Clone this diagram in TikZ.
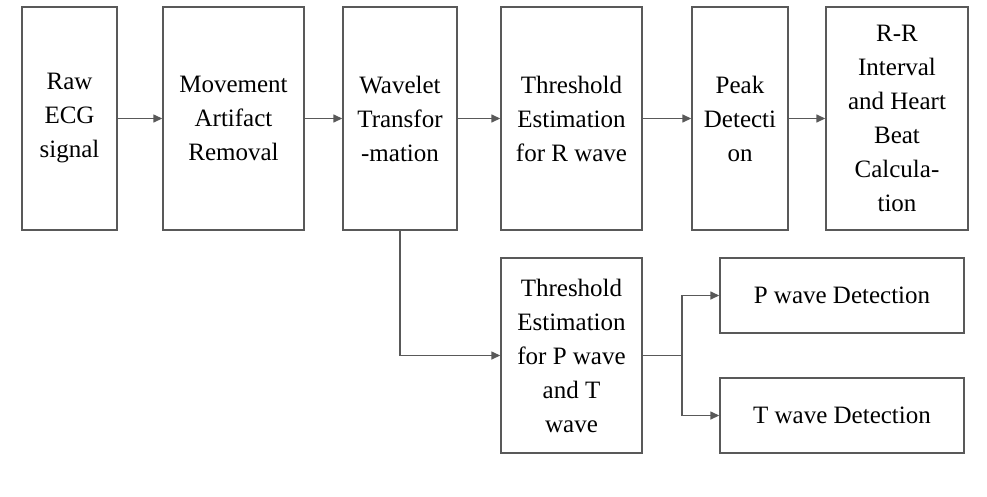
\documentclass[tikz,border=0pt]{standalone}
\usepackage{fontspec}
\setmainfont{Liberation Serif}
\usetikzlibrary{arrows.meta}
\begin{document}
\begin{tikzpicture}[x=1pt,y=-1pt,
  blk/.style={draw=black!65,line width=1.4pt,inner sep=0pt,align=center,
    font=\fontsize{25}{34}\selectfont},
  arr/.style={draw=black!65,line width=1.4pt,-{Triangle[length=9pt,width=8pt]}}]
  \useasboundingbox (0,0) rectangle (987,496);
  % top row: centre x, width
  \node[blk,minimum width=95pt,minimum height=223pt] (raw) at (69.5,118.5) {Raw\\ECG\\signal};
  \node[blk,minimum width=141pt,minimum height=223pt] (mov) at (233.5,118.5) {Movement\\Artifact\\Removal};
  \node[blk,minimum width=114pt,minimum height=223pt] (wav) at (400,118.5) {Wavelet\\Transfor\\-mation};
  \node[blk,minimum width=141pt,minimum height=223pt] (thr) at (571.5,118.5) {Threshold\\Estimation\\for R wave};
  \node[blk,minimum width=96pt,minimum height=223pt] (peak) at (740,118.5) {Peak\\Detecti\\on};
  \node[blk,minimum width=142pt,minimum height=223pt] (rr) at (897,118.5) {R-R\\Interval\\and Heart\\Beat\\Calcula-\\tion};
  % bottom part
  \node[blk,minimum width=141pt,minimum height=195pt] (thp) at (571.5,355.5) {Threshold\\Estimation\\for P wave\\and T\\wave};
  \node[blk,minimum width=244pt,minimum height=75pt] (pw) at (842,295.5) {P wave Detection};
  \node[blk,minimum width=244pt,minimum height=75pt] (tw) at (842,415.5) {T wave Detection};
  \coordinate (br) at (682,355.5);
  % connectors
  \draw[arr] (raw) -- (mov);
  \draw[arr] (mov) -- (wav);
  \draw[arr] (wav) -- (thr);
  \draw[arr] (thr) -- (peak);
  \draw[arr] (peak) -- (rr);
  \draw[arr] (wav.south) |- (thp.west);
  \draw[draw=black!65,line width=1.4pt] (thp.east) -- (br);
  \draw[arr] (br) |- (pw.west);
  \draw[arr] (br) |- (tw.west);
\end{tikzpicture}
\end{document}
